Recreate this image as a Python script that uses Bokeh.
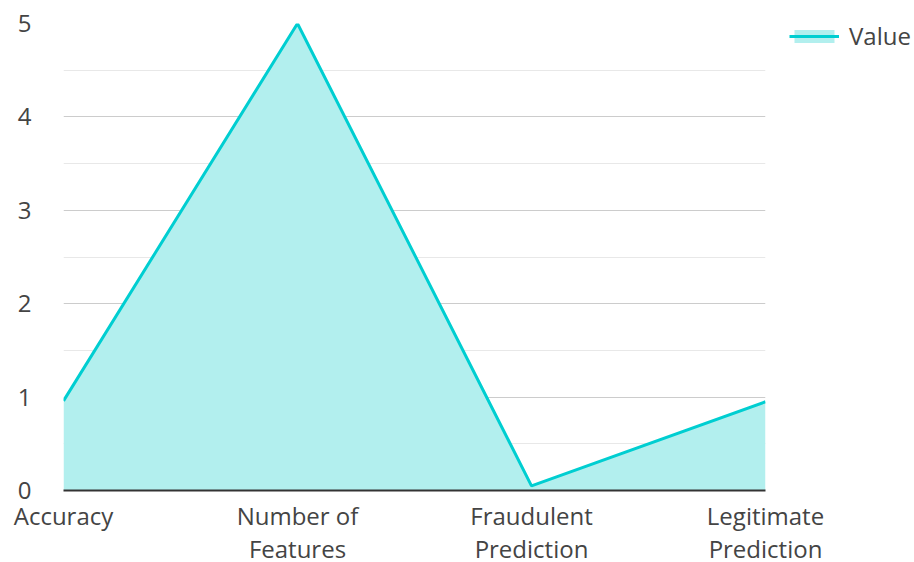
from bokeh.plotting import figure
from bokeh.models import ColumnDataSource, Legend, LegendItem, FixedTicker, Range1d
from bokeh.embed import file_html
from bokeh.resources import INLINE

categories = ["Accuracy", "Number of\nFeatures", "Fraudulent\nPrediction", "Legitimate\nPrediction"]
values = [0.96, 5.0, 0.05, 0.95]
y_ticks = [0, 1, 2, 3, 4, 5]

xs = list(range(len(categories)))
src = ColumnDataSource(dict(x=xs, y=values, y0=[0] * len(xs)))

FONT = "Open Sans"
LINE = "#00CED1"
FILL = "#B2EFEE"

p = figure(frame_width=702, frame_height=467, output_backend="svg", toolbar_location=None,
           x_range=Range1d(0, len(xs) - 1), y_range=Range1d(0, 5),
           min_border_left=63, min_border_top=23, min_border_bottom=60, min_border_right=0)
p.outline_line_color = None
p.background_fill_color = "white"
p.border_fill_color = "white"

area = p.varea(x="x", y1="y0", y2="y", source=src, fill_color=FILL, fill_alpha=1.0)
line = p.line(x="x", y="y", source=src, line_color=LINE, line_width=3)

# axes
p.xaxis.ticker = FixedTicker(ticks=xs)
p.xaxis.major_label_overrides = {i: c for i, c in enumerate(categories)}
p.xaxis.axis_line_color = "#333333"
p.xaxis.axis_line_width = 2
p.xaxis.major_tick_line_color = None
p.xaxis.minor_tick_line_color = None
p.xaxis.major_label_standoff = 2
p.xaxis.major_label_text_font = FONT
p.xaxis.major_label_text_font_size = "24px"
p.xaxis.major_label_text_color = "#444444"
p.xaxis.major_label_text_line_height = 1.0

p.yaxis.ticker = FixedTicker(ticks=y_ticks, minor_ticks=[0.5, 1.5, 2.5, 3.5, 4.5])
p.yaxis.axis_line_color = None
p.yaxis.major_tick_line_color = None
p.yaxis.minor_tick_line_color = None
p.yaxis.major_label_standoff = 26
p.yaxis.major_label_text_font = FONT
p.yaxis.major_label_text_font_size = "24px"
p.yaxis.major_label_text_color = "#444444"

p.xgrid.grid_line_color = None
p.ygrid.grid_line_color = "#cccccc"
p.ygrid.grid_line_width = 1
p.ygrid.minor_grid_line_color = "#e8e8e8"
p.ygrid.minor_grid_line_width = 1

legend = Legend(items=[LegendItem(label="Value", renderers=[area, line])],
                location=(24, 438), orientation="vertical",
                border_line_color=None, background_fill_alpha=0,
                padding=0, margin=0, spacing=0,
                glyph_width=50, glyph_height=16, label_standoff=10,
                label_text_font=FONT, label_text_font_size="24px",
                label_text_color="#444444")
p.add_layout(legend, "right")

open("out.html", "w").write(file_html(p, INLINE))
